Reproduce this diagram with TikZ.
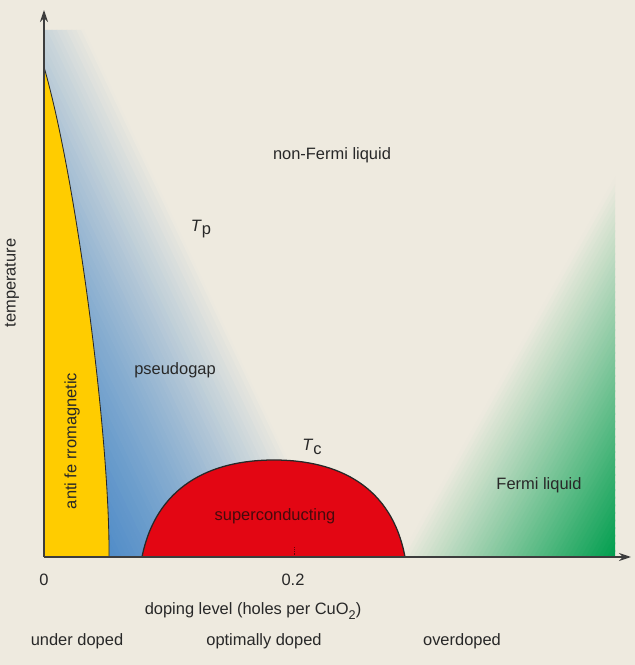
\documentclass[tikz,border=0pt]{standalone}
\usepackage{fontspec}
\setmainfont{Liberation Sans}
\usepackage{tikz}
\usetikzlibrary{arrows.meta}
\definecolor{paper}{RGB}{238,234,223}
\definecolor{pgblue}{RGB}{66,132,198}
\definecolor{flgreen}{RGB}{0,158,78}
\definecolor{afmyellow}{RGB}{255,204,0}
\definecolor{scred}{RGB}{227,6,19}
\definecolor{ink}{RGB}{40,40,40}
\definecolor{scink}{RGB}{70,10,12}

\begin{document}
\begin{tikzpicture}[x=0.025cm, y=0.025cm,
    lbl/.style={text=ink, font=\fontsize{11.7}{14}\selectfont, inner sep=0pt},
    boundary/.style={draw=ink, line width=0.9pt},
    axis/.style={draw=ink!90, line width=1.2pt, -{Stealth[length=0.3cm, width=0.2cm]}}]
    % background
    \fill[paper] (-44,-108) rectangle (591,557);
    \useasboundingbox (-44,-108) rectangle (591,557);

    % pseudogap, fading to the upper right
    \begin{scope}
      \clip (0,0) -- (0,527) -- (40,527) -- (290,0) -- cycle;
      \begin{scope}[rotate=25.4]
        \foreach \i in {0,...,59}{
          \pgfmathtruncatemacro{\p}{round(100*(1-((\i+0.5)/60)^1.6))}
          \fill[pgblue!\p!paper] (\i*4.4,-700) rectangle (\i*4.4+5,700);
        }
      \end{scope}
    \end{scope}

    % Fermi liquid, fading to the upper left
    \begin{scope}
      \clip (356,0) -- (571,0) -- (571,380) -- cycle;
      \begin{scope}[rotate=-29.5]
        \foreach \i in {0,...,49}{
          \pgfmathtruncatemacro{\p}{round(100*((\i+0.5)/50))}
          \fill[flgreen!\p!paper] (310+\i*3.75,-700) rectangle (310+\i*3.75+4.5,700);
        }
      \end{scope}
    \end{scope}

    % antiferromagnetic
    \fill[afmyellow] (0,0) -- (0,490) .. controls (32,380) and (66,120) .. (65,0) -- cycle;
    \draw[boundary, line width=0.6pt] (0,490) .. controls (32,380) and (66,120) .. (65,0);

    % superconducting dome
    \draw[boundary, fill=scred] (98,0) .. controls (112,70) and (165,97) .. (230,97)
      .. controls (295,97) and (348,70) .. (361,0) -- cycle;
    \draw[scred!45!black, line width=0.4pt, densely dotted] (250,0) -- (250,11);

    % axes
    \coordinate (O) at (0,0);
    \coordinate (ytip) at (0,547);
    \coordinate (xtip) at (587,0);
    \draw[axis] (O) -- (ytip);
    \draw[axis] (O) -- (xtip);

    % labels
    \node[lbl] (nfl) at (288,402) {non-Fermi liquid};
    \node[lbl] (Tp) at (157,328) {\textit{T}\raisebox{-0.4ex}{p}};
    \node[lbl] (pg) at (131,187) {pseudogap};
    \node[lbl, rotate=90] (afm) at (28,116) {anti fe rromagnetic};
    \node[lbl] (Tc) at (268,110) {\textit{T}\raisebox{-0.4ex}{c}};
    \node[lbl, text=scink] (sc) at (231,41) {superconducting};
    \node[lbl] (fl) at (495,72) {Fermi liquid};
    \node[lbl, rotate=90] (temp) at (-32,274) {temperature};

    % x axis
    \node[lbl] (zero) at (0,-23) {0};
    \node[lbl] (ptwo) at (249,-23) {0.2};
    \node[lbl] (dop) at (209,-54) {doping level (holes per CuO\raisebox{-0.5ex}{\small 2})};
    \node[lbl] (under) at (33,-84) {under doped};
    \node[lbl] (optimal) at (220,-84) {optimally doped};
    \node[lbl] (over) at (418,-84) {overdoped};
\end{tikzpicture}
\end{document}
